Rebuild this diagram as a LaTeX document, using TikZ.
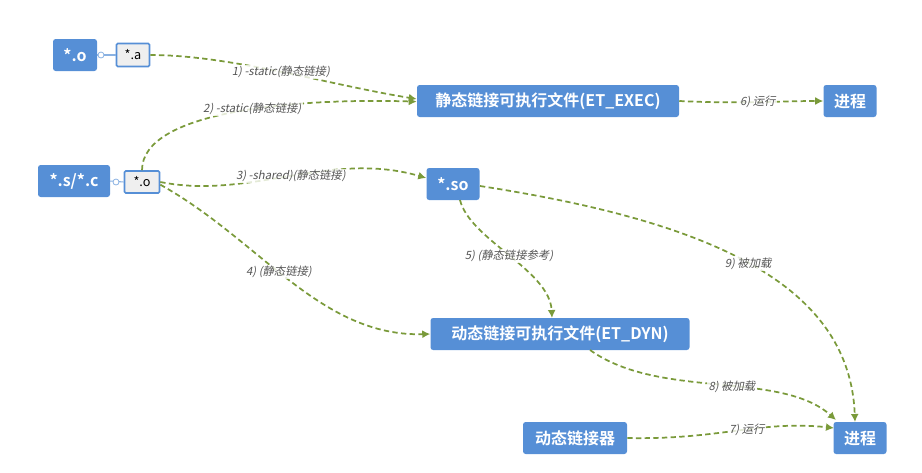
\documentclass[tikz,border=0pt]{standalone}
\usepackage{fontspec}
\setmainfont{Noto Sans CJK SC}
\newfontfamily\lblfont{Noto Sans CJK SC}[FakeSlant=0.2]
\newfontfamily\boldcjk{Noto Sans CJK SC Bold}
\begin{document}
\begin{tikzpicture}[x=0.75pt,y=-0.75pt,
  blue/.style={fill=nodeblue,draw=none,rounded corners=2pt,text=white,font=\boldcjk\fontsize{12}{14}\selectfont,inner sep=0pt,anchor=center},
  sub/.style={fill=subgray,draw=nodeblue,line width=1.2pt,rounded corners=1pt,text=black,font=\fontsize{9.5}{11}\selectfont,inner sep=0pt},
  link/.style={draw=edgegreen,line width=1.3pt,dashed,dash pattern=on 4pt off 2.5pt,-{Latex[length=6pt,width=6pt]}},
  lbl/.style={font=\lblfont\fontsize{8.5}{10}\selectfont,text=labelgray,fill=white,fill opacity=0.8,text opacity=1,inner sep=1pt}]
\usetikzlibrary{arrows.meta}
\definecolor{nodeblue}{HTML}{568FD6}
\definecolor{subgray}{HTML}{EFEFEF}
\definecolor{edgegreen}{HTML}{7A9A3A}
\definecolor{labelgray}{HTML}{555555}
\useasboundingbox (0,0) rectangle (922,472);
\node[blue,minimum width=44*0.75pt,minimum height=32*0.75pt] (o1) at (75,55) {*.o};
\node[sub,minimum width=33*0.75pt,minimum height=23*0.75pt] (a) at (133,55) {*.a};
\node[blue,minimum width=262*0.75pt,minimum height=32*0.75pt] (exec) at (548,101) {静态链接可执行文件(ET\_EXEC)};
\node[blue,minimum width=53*0.75pt,minimum height=32*0.75pt] (p1) at (850,101) {进程};
\node[blue,minimum width=72*0.75pt,minimum height=32*0.75pt] (sc) at (74,181) {*.s/*.c};
\node[sub,minimum width=35*0.75pt,minimum height=22*0.75pt] (o2) at (142,182) {*.o};
\node[blue,minimum width=53*0.75pt,minimum height=32*0.75pt] (so) at (453,184) {*.so};
\node[blue,minimum width=259*0.75pt,minimum height=32*0.75pt] (dyn) at (560,334) {动态链接可执行文件(ET\_DYN)};
\node[blue,minimum width=104*0.75pt,minimum height=32*0.75pt] (ld) at (575,438) {动态链接器};
\node[blue,minimum width=53*0.75pt,minimum height=32*0.75pt] (p2) at (860,438) {进程};
% sub connectors
\coordinate (c1) at (101,55);
\coordinate (c2) at (116,182);
\draw[nodeblue!70,line width=0.8pt] (o1.east) -- (a.west);
\draw[nodeblue!70,fill=white,line width=0.6pt] (c1) circle (3);
\draw[nodeblue!70,line width=0.8pt] (sc.east) -- (o2.west);
\draw[nodeblue!70,fill=white,line width=0.6pt] (c2) circle (3);
% edges
\draw[link] (a.east) .. controls (230,55) and (330,85) .. node[lbl,pos=0.5]{1)\ -static(静态链接)} ([yshift=1.5pt]exec.west);
\draw[link] (o2.north) .. controls (142,110) and (300,98) .. node[lbl,pos=0.55]{2)\ -static(静态链接)} ([yshift=-0.5pt]exec.west);
\draw[link] (o2.east) .. controls (250,200) and (330,150) .. node[lbl,pos=0.5]{3)\ -shared)(静态链接)} (so.west |- 0,178);
\draw[link] ([yshift=-2pt]o2.east) .. controls (260,240) and (320,337) .. node[lbl,pos=0.45]{4)\ (静态链接)} (dyn.west);
\draw[link] (460,200) .. controls (470,240) and (550,270) .. node[lbl,pos=0.5]{5)\ (静态链接参考)} (552,318);
\draw[link] (exec.east) .. controls (740,104) and (780,101) .. node[lbl,pos=0.5]{6)\ 运行} (p1.west);
\draw[link] (ld.east) .. controls (720,440) and (760,420) .. node[lbl,pos=0.55]{7)\ 运行} (834,428);
\draw[link] (590,350) .. controls (660,400) and (780,370) .. node[lbl,pos=0.55]{8)\ 被加载} (836,420);
\draw[link] (480,186) .. controls (700,220) and (850,280) .. node[lbl,pos=0.5]{9)\ 被加载} (855,422);
\end{tikzpicture}
\end{document}
